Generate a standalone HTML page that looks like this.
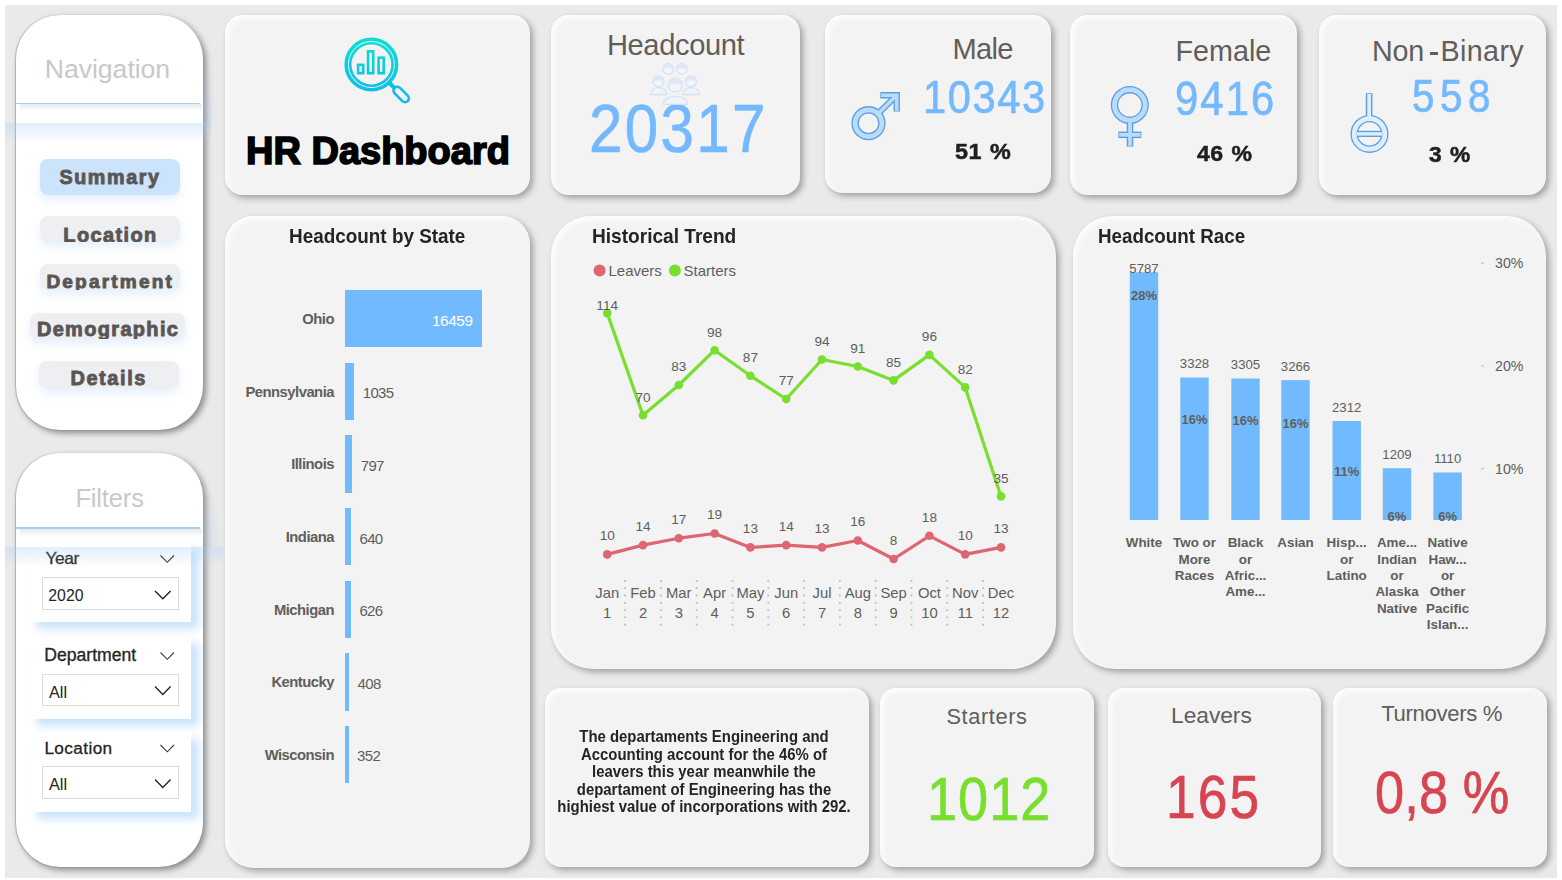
<!DOCTYPE html>
<html><head><meta charset="utf-8">
<style>
*{box-sizing:border-box;margin:0;padding:0}
html,body{width:1562px;height:880px;background:#fff;overflow:hidden}
body{font-family:"Liberation Sans",sans-serif;position:relative}
.bg{position:absolute;left:5px;top:5px;width:1552px;height:873px;background:#eaeaea}
.a{position:absolute}
.card{position:absolute;background:#f3f3f3;box-shadow:inset 3px 3px 6px rgba(255,255,255,.9),3px 3px 6px rgba(0,0,0,.32)}
.t{position:absolute;white-space:nowrap;line-height:1}
.panel{position:absolute;background:#fff;box-shadow:-1px 0 1px rgba(0,0,0,.2),3px 3px 6px rgba(0,0,0,.42)}
.nb{position:absolute;background:#eeeff2;border-radius:8px;overflow:hidden;box-shadow:0 5px 8px rgba(150,200,250,.25)}
.slc{position:absolute;background:#fff;left:29px;width:162px;box-shadow:8px 7px 8px rgba(140,195,245,.45)}
.dd{position:absolute;width:137px;border:1px solid #dcdcdc;background:#fff}
svg{position:absolute;overflow:visible}
</style></head><body>
<div class="bg"></div>

<!-- NAV PANEL -->
<div class="panel" style="left:16px;top:15px;width:187px;height:415px;border-radius:44px"></div>
<div class="t" style="left:44.8px;top:55.5px;font-size:26.64px;color:#c8c8c8;letter-spacing:-0.05px;">Navigation</div>
<div class="a" style="left:16px;top:102.5px;width:184px;height:1.5px;background:#a9cff5"></div>
<div class="a" style="left:20px;top:104px;width:182px;height:7px;background:linear-gradient(rgba(0,0,0,.09),rgba(0,0,0,0))"></div>
<div class="a" style="left:5px;top:123px;width:206px;height:20px;background:linear-gradient(rgba(160,205,250,.32),rgba(160,205,250,0))"></div>
<div class="a" style="left:203px;top:70px;width:12px;height:53px;background:linear-gradient(90deg,rgba(150,185,225,.28),rgba(150,185,225,0));-webkit-mask-image:linear-gradient(rgba(0,0,0,0),#000 60%)"></div>

<div class="nb" style="left:40px;top:159px;width:140px;height:36px;background:#cce4fb"><div class="t" style="left:19.4px;top:9.1px;font-size:19.73px;color:#5a5655;font-weight:bold;letter-spacing:1.63px;-webkit-text-stroke:0.9px #5a5655;">Summary</div></div>
<div class="nb" style="left:40px;top:216px;width:140px;height:26px"><div class="t" style="left:23.3px;top:9.5px;font-size:19.94px;color:#5a5655;font-weight:bold;letter-spacing:1.41px;-webkit-text-stroke:0.9px #5a5655;">Location</div></div>
<div class="nb" style="left:40px;top:264px;width:140px;height:26px"><div class="t" style="left:6.4px;top:8.2px;font-size:19.07px;color:#5a5655;font-weight:bold;letter-spacing:2.18px;-webkit-text-stroke:0.9px #5a5655;">Department</div></div>
<div class="nb" style="left:29.5px;top:313px;width:155.5px;height:25.5px"><div class="t" style="left:7.4px;top:7.4px;font-size:19.94px;color:#5a5655;font-weight:bold;letter-spacing:1.36px;-webkit-text-stroke:0.9px #5a5655;">Demographic</div></div>
<div class="nb" style="left:39px;top:361px;width:140px;height:27px"><div class="t" style="left:31.4px;top:7.6px;font-size:19.94px;color:#5a5655;font-weight:bold;letter-spacing:1.60px;-webkit-text-stroke:0.9px #5a5655;">Details</div></div>

<!-- FILTERS PANEL -->
<div class="panel" style="left:16px;top:453px;width:187px;height:414px;border-radius:44px"></div>
<div class="t" style="left:75.4px;top:485.9px;font-size:25.47px;color:#c8c8c8;letter-spacing:-0.14px;">Filters</div>
<div class="a" style="left:16px;top:527px;width:184px;height:1.5px;background:#a9cff5"></div>
<div class="a" style="left:20px;top:529px;width:182px;height:7px;background:linear-gradient(rgba(0,0,0,.09),rgba(0,0,0,0))"></div>
<div class="a" style="left:203px;top:495px;width:19px;height:52px;background:linear-gradient(90deg,rgba(150,185,225,.25),rgba(150,185,225,0));-webkit-mask-image:linear-gradient(rgba(0,0,0,0),#000 60%)"></div>

<div class="slc" style="top:542px;height:80px"></div>
<div class="slc" style="top:636px;height:83px"></div>
<div class="slc" style="top:732px;height:80px"></div>
<div class="dd" style="left:42px;top:577px;height:33px"></div>
<div class="dd" style="left:42px;top:673.5px;height:32.5px"></div>
<div class="dd" style="left:42px;top:766px;height:32.5px"></div>
<div class="t" style="left:45.6px;top:550.2px;font-size:17.4px;color:#252423;letter-spacing:-0.5px;-webkit-text-stroke:0.3px #252423">Year</div>
<div class="t" style="left:44.3px;top:646.6px;font-size:17.6px;color:#252423;letter-spacing:0px;-webkit-text-stroke:0.3px #252423">Department</div>
<div class="t" style="left:44.4px;top:739.6px;font-size:17.2px;color:#252423;letter-spacing:0.4px;-webkit-text-stroke:0.3px #252423">Location</div>
<div class="t" style="left:48.2px;top:587.6px;font-size:15.8px;color:#252423;letter-spacing:0.1px">2020</div>
<div class="t" style="left:49px;top:683.9px;font-size:16.3px;color:#252423">All</div>
<div class="t" style="left:49px;top:776.4px;font-size:16.3px;color:#252423">All</div>
<div class="a" style="left:5px;top:547px;width:218px;height:20px;background:linear-gradient(rgba(160,205,250,.32),rgba(160,205,250,0))"></div>

<!-- TOP ROW -->
<div class="card" style="left:225px;top:15px;width:305px;height:180px;border-radius:18px"></div>
<div class="t" style="left:246px;top:131.8px;font-size:38px;color:#000;font-weight:bold;-webkit-text-stroke:1.6px #000;">HR Dashboard</div>

<div class="card" style="left:551px;top:15px;width:249px;height:180px;border-radius:18px"></div>
<div class="t" style="left:606.9px;top:30.5px;font-size:29.11px;color:#605e5c;letter-spacing:-0.38px;">Headcount</div>
<div class="t" style="left:589.3px;top:94.9px;font-size:67.86px;color:#74b9ff;-webkit-text-stroke:0.7px #74b9ff;letter-spacing:2.67px;transform:scaleX(0.885);transform-origin:0 0;">20317</div>

<div class="card" style="left:825px;top:15px;width:226px;height:178px;border-radius:18px"></div>
<div class="t" style="left:952.4px;top:35.4px;font-size:29.11px;color:#605e5c;letter-spacing:-0.65px;">Male</div>
<div class="t" style="left:923.2px;top:73.2px;font-size:47.02px;color:#74b9ff;-webkit-text-stroke:0.7px #74b9ff;letter-spacing:1.79px;transform:scaleX(0.885);transform-origin:0 0;">10343</div>
<div class="t" style="left:955.3px;top:140.5px;font-size:21.83px;color:#1f1f1f;font-weight:bold;letter-spacing:0.4px;word-spacing:1.2px;-webkit-text-stroke:0.5px #1f1f1f;transform:scaleX(1.07);transform-origin:0 0;">51 %</div>

<div class="card" style="left:1070px;top:15px;width:227px;height:180px;border-radius:18px"></div>
<div class="t" style="left:1175.6px;top:37.1px;font-size:28.68px;color:#605e5c;letter-spacing:0.00px;">Female</div>
<div class="t" style="left:1175.1px;top:75.2px;font-size:47.20px;color:#74b9ff;-webkit-text-stroke:0.7px #74b9ff;letter-spacing:2.39px;transform:scaleX(0.885);transform-origin:0 0;">9416</div>
<div class="t" style="left:1196.7px;top:143.6px;font-size:21.54px;color:#1f1f1f;font-weight:bold;letter-spacing:0.4px;word-spacing:1.2px;-webkit-text-stroke:0.5px #1f1f1f;transform:scaleX(1.07);transform-origin:0 0;">46 %</div>

<div class="card" style="left:1319px;top:15px;width:227px;height:180px;border-radius:18px"></div>
<div class="t" style="left:1371.9px;top:37.1px;font-size:28.68px;color:#605e5c;letter-spacing:-0.10px;">Non</div>
<div class="a" style="left:1429.8px;top:52.1px;width:8.5px;height:2.7px;background:#605e5c"></div>
<div class="t" style="left:1440.6px;top:37.1px;font-size:28.68px;color:#605e5c;letter-spacing:0.35px;">Binary</div>
<div class="t" style="left:1411.8px;top:73.7px;font-size:45.56px;color:#74b9ff;-webkit-text-stroke:0.7px #74b9ff;letter-spacing:6.29px;transform:scaleX(0.885);transform-origin:0 0;">558</div>
<div class="t" style="left:1428.8px;top:143.8px;font-size:21.23px;color:#1f1f1f;font-weight:bold;letter-spacing:0.4px;word-spacing:1.2px;-webkit-text-stroke:0.5px #1f1f1f;transform:scaleX(1.07);transform-origin:0 0;">3 %</div>

<!-- MIDDLE ROW -->
<div class="card" style="left:225px;top:216px;width:305px;height:652px;border-radius:28px"></div>
<div class="t" style="left:289.3px;top:225.8px;font-size:20.52px;color:#252423;font-weight:bold;transform:scaleX(0.921);transform-origin:0 0;">Headcount by State</div>

<div class="card" style="left:551px;top:216px;width:505px;height:453px;border-radius:40px 40px 45px 42px"></div>
<div class="t" style="left:592.3px;top:225.8px;font-size:20.67px;color:#252423;font-weight:bold;transform:scaleX(0.924);transform-origin:0 0;">Historical Trend</div>

<div class="card" style="left:1073px;top:216px;width:473px;height:453px;border-radius:40px 40px 45px 42px"></div>
<div class="t" style="left:1097.8px;top:225.8px;font-size:20.67px;color:#252423;font-weight:bold;transform:scaleX(0.909);transform-origin:0 0;">Headcount Race</div>

<!-- BOTTOM ROW -->
<div class="card" style="left:545px;top:688px;width:324px;height:179px;border-radius:16px"></div>
<div class="a" style="left:542px;top:728px;width:324px;text-align:center;font-size:16px;font-weight:bold;line-height:17.5px;color:#252423;transform:scaleX(0.932)">The departaments Engineering and<br>Accounting account for the 46% of<br>leavers this year meanwhile the<br>departament of Engineering has the<br>highiest value of incorporations with 292.</div>

<div class="card" style="left:880px;top:688px;width:214px;height:179px;border-radius:16px"></div>
<div class="t" style="left:946.4px;top:705.5px;font-size:21.81px;color:#605e5c;letter-spacing:0.60px;">Starters</div>
<div class="t" style="left:926.9px;top:768.9px;font-size:61.14px;color:#79df2e;-webkit-text-stroke:0.7px #79df2e;letter-spacing:1.16px;transform:scaleX(0.885);transform-origin:0 0;">1012</div>

<div class="card" style="left:1108px;top:688px;width:213px;height:179px;border-radius:16px"></div>
<div class="t" style="left:1171.1px;top:704.0px;font-size:22.71px;color:#605e5c;letter-spacing:-0.02px;">Leavers</div>
<div class="t" style="left:1165.9px;top:767.2px;font-size:60.26px;color:#d64550;-webkit-text-stroke:0.7px #d64550;letter-spacing:2.39px;transform:scaleX(0.885);transform-origin:0 0;">165</div>

<div class="card" style="left:1333px;top:688px;width:214px;height:179px;border-radius:16px"></div>
<div class="t" style="left:1381.2px;top:703.0px;font-size:22.13px;color:#605e5c;letter-spacing:-0.33px;">Turnovers %</div>
<div class="t" style="left:1375.0px;top:762.9px;font-size:59.11px;color:#d64550;-webkit-text-stroke:0.7px #d64550;letter-spacing:0.16px;transform:scaleX(0.885);transform-origin:0 0;">0,8 %</div>

<div class="a" style="left:345px;top:290px;width:137.2px;height:57.4px;background:#72bafe"></div>
<div class="t" style="left:214px;width:120px;text-align:right;top:312.1px;font-size:14.8px;font-weight:bold;color:#605e5c;letter-spacing:-0.5px">Ohio</div>
<div class="t" style="left:372px;width:100.5px;text-align:right;top:312.7px;font-size:15.4px;color:#fff;letter-spacing:-0.45px">16459</div>
<div class="a" style="left:345px;top:362.8px;width:9.2px;height:57.4px;background:#72bafe"></div>
<div class="t" style="left:214px;width:120px;text-align:right;top:384.9px;font-size:14.8px;font-weight:bold;color:#605e5c;letter-spacing:-0.5px">Pennsylvania</div>
<div class="t" style="left:362.8px;top:385.4px;font-size:15px;color:#605e5c;letter-spacing:-0.7px">1035</div>
<div class="a" style="left:345px;top:435.3px;width:7.2px;height:57.4px;background:#72bafe"></div>
<div class="t" style="left:214px;width:120px;text-align:right;top:457.4px;font-size:14.8px;font-weight:bold;color:#605e5c;letter-spacing:-0.5px">Illinois</div>
<div class="t" style="left:360.8px;top:457.9px;font-size:15px;color:#605e5c;letter-spacing:-0.7px">797</div>
<div class="a" style="left:345px;top:507.9px;width:5.9px;height:57.4px;background:#72bafe"></div>
<div class="t" style="left:214px;width:120px;text-align:right;top:530.0px;font-size:14.8px;font-weight:bold;color:#605e5c;letter-spacing:-0.5px">Indiana</div>
<div class="t" style="left:359.5px;top:530.5px;font-size:15px;color:#605e5c;letter-spacing:-0.7px">640</div>
<div class="a" style="left:345px;top:580.6px;width:5.8px;height:57.4px;background:#72bafe"></div>
<div class="t" style="left:214px;width:120px;text-align:right;top:602.7px;font-size:14.8px;font-weight:bold;color:#605e5c;letter-spacing:-0.5px">Michigan</div>
<div class="t" style="left:359.4px;top:603.2px;font-size:15px;color:#605e5c;letter-spacing:-0.7px">626</div>
<div class="a" style="left:345px;top:653.2px;width:4.0px;height:57.4px;background:#72bafe"></div>
<div class="t" style="left:214px;width:120px;text-align:right;top:675.3px;font-size:14.8px;font-weight:bold;color:#605e5c;letter-spacing:-0.5px">Kentucky</div>
<div class="t" style="left:357.6px;top:675.8px;font-size:15px;color:#605e5c;letter-spacing:-0.7px">408</div>
<div class="a" style="left:345px;top:725.8px;width:3.5px;height:57.4px;background:#72bafe"></div>
<div class="t" style="left:214px;width:120px;text-align:right;top:747.9px;font-size:14.8px;font-weight:bold;color:#605e5c;letter-spacing:-0.5px">Wisconsin</div>
<div class="t" style="left:357.1px;top:748.4px;font-size:15px;color:#605e5c;letter-spacing:-0.7px">352</div>
<svg style="left:0;top:0" width="1562" height="880" viewBox="0 0 1562 880">
<g font-family="Liberation Sans" font-size="13.6" fill="#605e5c" text-anchor="middle">
<line x1="625.1" y1="580" x2="625.1" y2="626" stroke="#bcbcbc" stroke-width="1.8" stroke-dasharray="1.8 5.5"/>
<line x1="660.9" y1="580" x2="660.9" y2="626" stroke="#bcbcbc" stroke-width="1.8" stroke-dasharray="1.8 5.5"/>
<line x1="696.7" y1="580" x2="696.7" y2="626" stroke="#bcbcbc" stroke-width="1.8" stroke-dasharray="1.8 5.5"/>
<line x1="732.5" y1="580" x2="732.5" y2="626" stroke="#bcbcbc" stroke-width="1.8" stroke-dasharray="1.8 5.5"/>
<line x1="768.3" y1="580" x2="768.3" y2="626" stroke="#bcbcbc" stroke-width="1.8" stroke-dasharray="1.8 5.5"/>
<line x1="804.1" y1="580" x2="804.1" y2="626" stroke="#bcbcbc" stroke-width="1.8" stroke-dasharray="1.8 5.5"/>
<line x1="839.9" y1="580" x2="839.9" y2="626" stroke="#bcbcbc" stroke-width="1.8" stroke-dasharray="1.8 5.5"/>
<line x1="875.7" y1="580" x2="875.7" y2="626" stroke="#bcbcbc" stroke-width="1.8" stroke-dasharray="1.8 5.5"/>
<line x1="911.5" y1="580" x2="911.5" y2="626" stroke="#bcbcbc" stroke-width="1.8" stroke-dasharray="1.8 5.5"/>
<line x1="947.3" y1="580" x2="947.3" y2="626" stroke="#bcbcbc" stroke-width="1.8" stroke-dasharray="1.8 5.5"/>
<line x1="983.1" y1="580" x2="983.1" y2="626" stroke="#bcbcbc" stroke-width="1.8" stroke-dasharray="1.8 5.5"/>
<polyline points="607.2,554.4 643.0,545.1 678.8,538.2 714.6,533.5 750.4,547.4 786.2,545.1 822.0,547.4 857.8,540.5 893.6,559.0 929.4,535.8 965.2,554.4 1001.0,547.4" fill="none" stroke="#dd6672" stroke-width="3.2" stroke-linejoin="round"/>
<circle cx="607.2" cy="554.4" r="4.3" fill="#dd6672"/>
<circle cx="643.0" cy="545.1" r="4.3" fill="#dd6672"/>
<circle cx="678.8" cy="538.2" r="4.3" fill="#dd6672"/>
<circle cx="714.6" cy="533.5" r="4.3" fill="#dd6672"/>
<circle cx="750.4" cy="547.4" r="4.3" fill="#dd6672"/>
<circle cx="786.2" cy="545.1" r="4.3" fill="#dd6672"/>
<circle cx="822.0" cy="547.4" r="4.3" fill="#dd6672"/>
<circle cx="857.8" cy="540.5" r="4.3" fill="#dd6672"/>
<circle cx="893.6" cy="559.0" r="4.3" fill="#dd6672"/>
<circle cx="929.4" cy="535.8" r="4.3" fill="#dd6672"/>
<circle cx="965.2" cy="554.4" r="4.3" fill="#dd6672"/>
<circle cx="1001.0" cy="547.4" r="4.3" fill="#dd6672"/>
<polyline points="607.2,313.1 643.0,415.2 678.8,385.0 714.6,350.2 750.4,375.8 786.2,399.0 822.0,359.5 857.8,366.5 893.6,380.4 929.4,354.9 965.2,387.4 1001.0,496.4" fill="none" stroke="#79df2e" stroke-width="3.2" stroke-linejoin="round"/>
<circle cx="607.2" cy="313.1" r="4.3" fill="#79df2e"/>
<circle cx="643.0" cy="415.2" r="4.3" fill="#79df2e"/>
<circle cx="678.8" cy="385.0" r="4.3" fill="#79df2e"/>
<circle cx="714.6" cy="350.2" r="4.3" fill="#79df2e"/>
<circle cx="750.4" cy="375.8" r="4.3" fill="#79df2e"/>
<circle cx="786.2" cy="399.0" r="4.3" fill="#79df2e"/>
<circle cx="822.0" cy="359.5" r="4.3" fill="#79df2e"/>
<circle cx="857.8" cy="366.5" r="4.3" fill="#79df2e"/>
<circle cx="893.6" cy="380.4" r="4.3" fill="#79df2e"/>
<circle cx="929.4" cy="354.9" r="4.3" fill="#79df2e"/>
<circle cx="965.2" cy="387.4" r="4.3" fill="#79df2e"/>
<circle cx="1001.0" cy="496.4" r="4.3" fill="#79df2e"/>
<text x="607.2" y="540.3">10</text>
<text x="643.0" y="531.0">14</text>
<text x="678.8" y="524.1">17</text>
<text x="714.6" y="519.4">19</text>
<text x="750.4" y="533.3">13</text>
<text x="786.2" y="531.0">14</text>
<text x="822.0" y="533.3">13</text>
<text x="857.8" y="526.4">16</text>
<text x="893.6" y="544.9">8</text>
<text x="929.4" y="521.7">18</text>
<text x="965.2" y="540.3">10</text>
<text x="1001.0" y="533.3">13</text>
<text x="607.2" y="310.4">114</text>
<text x="643.0" y="401.5">70</text>
<text x="678.8" y="371.3">83</text>
<text x="714.6" y="336.5">98</text>
<text x="750.4" y="362.1">87</text>
<text x="786.2" y="385.3">77</text>
<text x="822.0" y="345.8">94</text>
<text x="857.8" y="352.8">91</text>
<text x="893.6" y="366.7">85</text>
<text x="929.4" y="341.2">96</text>
<text x="965.2" y="373.7">82</text>
<text x="1001.0" y="482.7">35</text>
</g>
<g font-family="Liberation Sans" font-size="14.8" fill="#605e5c" text-anchor="middle">
<text x="607.2" y="597.9">Jan</text><text x="607.2" y="617.8">1</text>
<text x="643.0" y="597.9">Feb</text><text x="643.0" y="617.8">2</text>
<text x="678.8" y="597.9">Mar</text><text x="678.8" y="617.8">3</text>
<text x="714.6" y="597.9">Apr</text><text x="714.6" y="617.8">4</text>
<text x="750.4" y="597.9">May</text><text x="750.4" y="617.8">5</text>
<text x="786.2" y="597.9">Jun</text><text x="786.2" y="617.8">6</text>
<text x="822.0" y="597.9">Jul</text><text x="822.0" y="617.8">7</text>
<text x="857.8" y="597.9">Aug</text><text x="857.8" y="617.8">8</text>
<text x="893.6" y="597.9">Sep</text><text x="893.6" y="617.8">9</text>
<text x="929.4" y="597.9">Oct</text><text x="929.4" y="617.8">10</text>
<text x="965.2" y="597.9">Nov</text><text x="965.2" y="617.8">11</text>
<text x="1001.0" y="597.9">Dec</text><text x="1001.0" y="617.8">12</text>
</g>
<circle cx="599.6" cy="270.6" r="6" fill="#dd6672"/><circle cx="674.9" cy="270.6" r="6" fill="#79df2e"/>
<g font-family="Liberation Sans" font-size="15" fill="#605e5c"><text x="608.5" y="276">Leavers</text><text x="683.5" y="276">Starters</text></g>
<rect x="1129.8" y="272.2" width="28.4" height="247.8" fill="#72bafe"/>
<text x="1144.0" y="272.7" font-family="Liberation Sans" font-size="13.2" fill="#605e5c" text-anchor="middle">5787</text>
<text x="1144.0" y="300.2" font-family="Liberation Sans" font-size="13" font-weight="bold" fill="#605e5c" text-anchor="middle">28%</text>
<text x="1144.0" y="547.1" font-family="Liberation Sans" font-size="13.4" font-weight="bold" fill="#605e5c" text-anchor="middle">White</text>
<rect x="1180.3" y="377.5" width="28.4" height="142.5" fill="#72bafe"/>
<text x="1194.5" y="368.1" font-family="Liberation Sans" font-size="13.2" fill="#605e5c" text-anchor="middle">3328</text>
<text x="1194.5" y="424.2" font-family="Liberation Sans" font-size="13" font-weight="bold" fill="#605e5c" text-anchor="middle">16%</text>
<text x="1194.5" y="547.1" font-family="Liberation Sans" font-size="13.4" font-weight="bold" fill="#605e5c" text-anchor="middle">Two or</text>
<text x="1194.5" y="563.5" font-family="Liberation Sans" font-size="13.4" font-weight="bold" fill="#605e5c" text-anchor="middle">More</text>
<text x="1194.5" y="579.9" font-family="Liberation Sans" font-size="13.4" font-weight="bold" fill="#605e5c" text-anchor="middle">Races</text>
<rect x="1231.3" y="378.5" width="28.4" height="141.5" fill="#72bafe"/>
<text x="1245.5" y="369.1" font-family="Liberation Sans" font-size="13.2" fill="#605e5c" text-anchor="middle">3305</text>
<text x="1245.5" y="425.0" font-family="Liberation Sans" font-size="13" font-weight="bold" fill="#605e5c" text-anchor="middle">16%</text>
<text x="1245.5" y="547.1" font-family="Liberation Sans" font-size="13.4" font-weight="bold" fill="#605e5c" text-anchor="middle">Black</text>
<text x="1245.5" y="563.5" font-family="Liberation Sans" font-size="13.4" font-weight="bold" fill="#605e5c" text-anchor="middle">or</text>
<text x="1245.5" y="579.9" font-family="Liberation Sans" font-size="13.4" font-weight="bold" fill="#605e5c" text-anchor="middle">Afric...</text>
<text x="1245.5" y="596.3" font-family="Liberation Sans" font-size="13.4" font-weight="bold" fill="#605e5c" text-anchor="middle">Ame...</text>
<rect x="1281.3" y="380.1" width="28.4" height="139.9" fill="#72bafe"/>
<text x="1295.5" y="370.7" font-family="Liberation Sans" font-size="13.2" fill="#605e5c" text-anchor="middle">3266</text>
<text x="1295.5" y="427.7" font-family="Liberation Sans" font-size="13" font-weight="bold" fill="#605e5c" text-anchor="middle">16%</text>
<text x="1295.5" y="547.1" font-family="Liberation Sans" font-size="13.4" font-weight="bold" fill="#605e5c" text-anchor="middle">Asian</text>
<rect x="1332.5" y="421.0" width="28.4" height="99.0" fill="#72bafe"/>
<text x="1346.7" y="411.6" font-family="Liberation Sans" font-size="13.2" fill="#605e5c" text-anchor="middle">2312</text>
<text x="1346.7" y="476.4" font-family="Liberation Sans" font-size="13" font-weight="bold" fill="#605e5c" text-anchor="middle">11%</text>
<text x="1346.7" y="547.1" font-family="Liberation Sans" font-size="13.4" font-weight="bold" fill="#605e5c" text-anchor="middle">Hisp...</text>
<text x="1346.7" y="563.5" font-family="Liberation Sans" font-size="13.4" font-weight="bold" fill="#605e5c" text-anchor="middle">or</text>
<text x="1346.7" y="579.9" font-family="Liberation Sans" font-size="13.4" font-weight="bold" fill="#605e5c" text-anchor="middle">Latino</text>
<rect x="1382.8" y="468.2" width="28.4" height="51.8" fill="#72bafe"/>
<text x="1397.0" y="458.8" font-family="Liberation Sans" font-size="13.2" fill="#605e5c" text-anchor="middle">1209</text>
<text x="1397.0" y="521.2" font-family="Liberation Sans" font-size="13" font-weight="bold" fill="#605e5c" text-anchor="middle">6%</text>
<text x="1397.0" y="547.1" font-family="Liberation Sans" font-size="13.4" font-weight="bold" fill="#605e5c" text-anchor="middle">Ame...</text>
<text x="1397.0" y="563.5" font-family="Liberation Sans" font-size="13.4" font-weight="bold" fill="#605e5c" text-anchor="middle">Indian</text>
<text x="1397.0" y="579.9" font-family="Liberation Sans" font-size="13.4" font-weight="bold" fill="#605e5c" text-anchor="middle">or</text>
<text x="1397.0" y="596.3" font-family="Liberation Sans" font-size="13.4" font-weight="bold" fill="#605e5c" text-anchor="middle">Alaska</text>
<text x="1397.0" y="612.7" font-family="Liberation Sans" font-size="13.4" font-weight="bold" fill="#605e5c" text-anchor="middle">Native</text>
<rect x="1433.4" y="472.5" width="28.4" height="47.5" fill="#72bafe"/>
<text x="1447.6" y="463.1" font-family="Liberation Sans" font-size="13.2" fill="#605e5c" text-anchor="middle">1110</text>
<text x="1447.6" y="521.2" font-family="Liberation Sans" font-size="13" font-weight="bold" fill="#605e5c" text-anchor="middle">6%</text>
<text x="1447.6" y="547.1" font-family="Liberation Sans" font-size="13.4" font-weight="bold" fill="#605e5c" text-anchor="middle">Native</text>
<text x="1447.6" y="563.5" font-family="Liberation Sans" font-size="13.4" font-weight="bold" fill="#605e5c" text-anchor="middle">Haw...</text>
<text x="1447.6" y="579.9" font-family="Liberation Sans" font-size="13.4" font-weight="bold" fill="#605e5c" text-anchor="middle">or</text>
<text x="1447.6" y="596.3" font-family="Liberation Sans" font-size="13.4" font-weight="bold" fill="#605e5c" text-anchor="middle">Other</text>
<text x="1447.6" y="612.7" font-family="Liberation Sans" font-size="13.4" font-weight="bold" fill="#605e5c" text-anchor="middle">Pacific</text>
<text x="1447.6" y="629.1" font-family="Liberation Sans" font-size="13.4" font-weight="bold" fill="#605e5c" text-anchor="middle">Islan...</text>
<text x="1495" y="268.2" font-family="Liberation Sans" font-size="14.2" fill="#605e5c">30%</text>
<rect x="1481.5" y="262.4" width="2" height="1.6" fill="#bbb"/>
<text x="1495" y="371.0" font-family="Liberation Sans" font-size="14.2" fill="#605e5c">20%</text>
<rect x="1481.5" y="365.2" width="2" height="1.6" fill="#bbb"/>
<text x="1495" y="473.6" font-family="Liberation Sans" font-size="14.2" fill="#605e5c">10%</text>
<rect x="1481.5" y="467.8" width="2" height="1.6" fill="#bbb"/>
</svg>

<svg style="left:0;top:0" width="1562" height="880" viewBox="0 0 1562 880">
<defs><linearGradient id="mg" gradientUnits="userSpaceOnUse" x1="0" y1="38" x2="0" y2="106"><stop offset="0" stop-color="#05e2d2"/><stop offset="1" stop-color="#13b4ea"/></linearGradient></defs>
<g fill="none" stroke="url(#mg)" stroke-width="2.6">
<circle cx="371.4" cy="64.5" r="25.2" stroke-width="3.6"/>
<circle cx="371.4" cy="64.5" r="21.2" stroke-width="2.6"/>
<rect x="358.1" y="64.9" width="5.1" height="8.3"/>
<rect x="368.1" y="51.3" width="5.1" height="21.9"/>
<rect x="378.6" y="57.7" width="5.1" height="15.5"/>
<path d="M389.5 83 L394.5 88" stroke-width="4"/>
<rect x="391.9" y="90.7" width="18.6" height="7.6" rx="3.8" transform="rotate(45 401.2 94.5)"/>
</g>
<g fill="#eef3f9" stroke="#d0e0f1" stroke-width="1.1"><circle cx="668.3" cy="68.8" r="5.3" fill="#f4f6f9"/><path d="M663.0 69.3 A5.3 5.3 0 0 1 673.6 69.3 Q668.3 66.9 663.0 69.3Z" fill="#dde9f6" stroke="none"/><circle cx="681.9" cy="68.8" r="5.3" fill="#f4f6f9"/><path d="M676.6 69.3 A5.3 5.3 0 0 1 687.2 69.3 Q681.9 66.9 676.6 69.3Z" fill="#dde9f6" stroke="none"/><path d="M650.5 94.6 C651 89 655 87.5 658.6 87.5 C662 87.5 666.5 89 667 94.6 Z"/><circle cx="658.6" cy="81.3" r="5.4" fill="#f4f6f9"/><path d="M653.2 81.8 A5.4 5.4 0 0 1 664.0 81.8 Q658.6 79.4 653.2 81.8Z" fill="#dde9f6" stroke="none"/><path d="M683 94.6 C683.5 89 687.5 87.5 691 87.5 C694.5 87.5 699 89 699.5 94.6 Z"/><circle cx="691" cy="81.3" r="5.4" fill="#f4f6f9"/><path d="M685.6 81.8 A5.4 5.4 0 0 1 696.4 81.8 Q691 79.4 685.6 81.8Z" fill="#dde9f6" stroke="none"/><path d="M663.2 104.4 C663.8 98 669 96.5 675.2 96.5 C681.5 96.5 686.7 98 687.3 104.4 Z" fill="#f0f4f8"/><circle cx="675.2" cy="85" r="7" fill="#f4f6f9"/><path d="M668.2 85.5 A7 7 0 0 1 682.2 85.5 Q675.2 82.5 668.2 85.5Z" fill="#dde9f6" stroke="none"/></g>
<g fill="none" stroke="#5d9fe1">
<circle cx="868.5" cy="123.2" r="13.4" stroke-width="7.4"/>
<path d="M877.9 113.8 L896.7 95.3" stroke-width="6.4"/>
<path d="M880.3 95.3 L896.7 95.3 L896.7 111.6" stroke-width="6.4" stroke-linejoin="miter"/>
<circle cx="1129.8" cy="105" r="15.3" stroke-width="7.4"/>
<path d="M1130 121 L1130 146.6" stroke-width="6.5"/>
<path d="M1118.3 134.85 L1141.4 134.85" stroke-width="6.5"/>
<circle cx="1369.5" cy="133.9" r="15.3" stroke-width="7.4"/>
<path d="M1369.1 93.2 L1369.1 117" stroke-width="6.6"/>
<path d="M1356 133.9 L1383 133.9" stroke-width="6.2"/>
</g>
<g fill="none" stroke="#b9dcfc">
<circle cx="868.5" cy="123.2" r="13.4" stroke-width="4.8"/>
<path d="M877.9 113.8 L896.7 95.3" stroke-width="3.6"/>
<path d="M881.1 95.3 L896.7 95.3 L896.7 110.8" stroke-width="3.6" stroke-linejoin="miter"/>
<circle cx="1129.8" cy="105" r="15.3" stroke-width="4.8"/>
<path d="M1130 122 L1130 145.8" stroke-width="3.7"/>
<path d="M1119.1 134.85 L1140.6 134.85" stroke-width="3.7"/>
</g>
<g fill="none" stroke="#ddeefd">
<circle cx="1369.5" cy="133.9" r="15.3" stroke-width="4.8"/>
<path d="M1369.1 94 L1369.1 118" stroke-width="3.8"/>
<path d="M1357 133.9 L1382 133.9" stroke-width="3.4"/>
</g>
<g fill="none" stroke="#3a3a3a" stroke-width="1.1">
<path d="M160.5 555.5 L167.3 562.3 L174 555.5"/>
<path d="M160.5 652.5 L167.3 659.3 L174 652.5"/>
<path d="M160.5 745 L167.3 751.8 L174 745"/>
</g>
<g fill="none" stroke="#252423" stroke-width="1.4">
<path d="M155 591 L162.8 598.8 L170.6 591"/>
<path d="M155 686.6 L162.8 694.4 L170.6 686.6"/>
<path d="M155 779.6 L162.8 787.4 L170.6 779.6"/>
</g>
</svg>

</body></html>
